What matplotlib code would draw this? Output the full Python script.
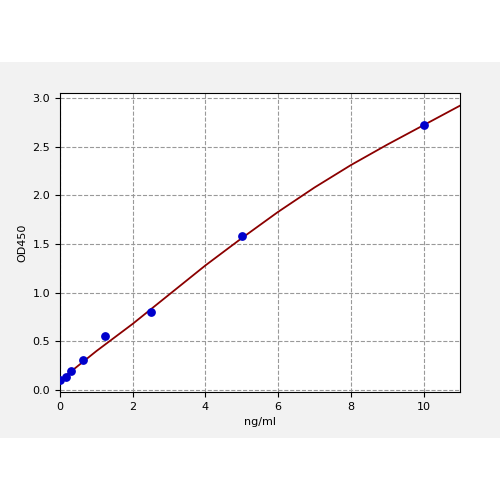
import matplotlib
matplotlib.use("Agg")
import matplotlib.pyplot as plt
from matplotlib.patches import Rectangle

# standard points
conc = [0, 0.156, 0.312, 0.625, 1.25, 2.5, 5, 10]
od = [0.10, 0.13, 0.20, 0.31, 0.56, 0.80, 1.58, 2.72]

# fitted curve
curve_x = [0, 0.5, 1, 1.5, 2, 3, 4, 5, 6, 7, 8, 9, 10, 11]
curve_y = [0.10, 0.25, 0.40, 0.54, 0.68, 0.98, 1.28, 1.56, 1.83, 2.08, 2.31, 2.52, 2.72, 2.92]

fig = plt.figure(figsize=(5, 5), dpi=100)
fig.patches.append(Rectangle((0, 62 / 500), 1, 376 / 500, transform=fig.transFigure,
                             facecolor="#f2f2f2", edgecolor="none", zorder=-1))
ax = fig.add_axes([60 / 500, 108 / 500, 400 / 500, 299 / 500])
ax.plot(curve_x, curve_y, color="#8b0000", lw=1.3, zorder=2)
ax.scatter(conc, od, color="#0000cc", s=28, zorder=3)
ax.set_xlim(0, 11)
ax.set_ylim(-0.02, 3.05)
ax.set_xticks([0, 2, 4, 6, 8, 10])
ax.set_yticks([0, 0.5, 1.0, 1.5, 2.0, 2.5, 3.0])
ax.grid(True, linestyle="--", color="#999999", lw=0.8)
ax.tick_params(labelsize=8)
ax.set_xlabel("ng/ml", fontsize=8)
ax.set_ylabel("OD450", fontsize=8)
fig.savefig("out.png")
